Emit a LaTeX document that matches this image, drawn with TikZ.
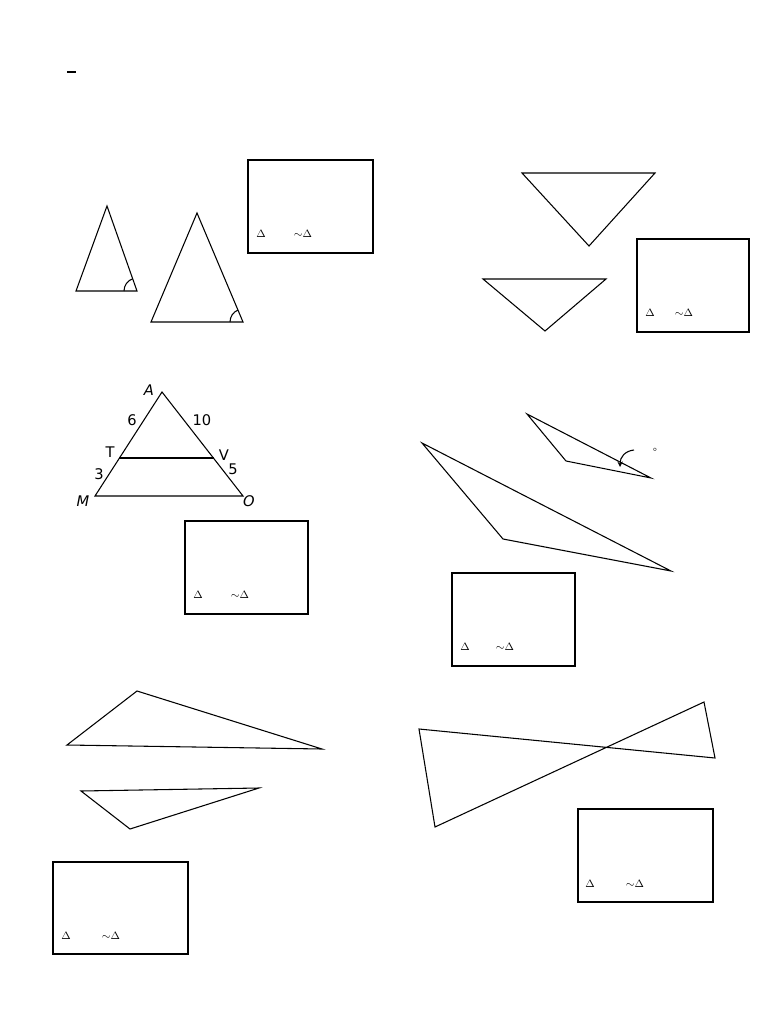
\documentclass[tikz,border=0pt]{standalone}
\usepackage{amsmath}
\usepackage{amssymb}
\usepackage{fontspec}
\newfontfamily\lblfont{DejaVu Sans}
\usetikzlibrary{arrows}

\begin{document}
\begin{tikzpicture}[x=0.75pt,y=-0.75pt,line width=0.8pt,
  lbl/.style={font=\lblfont\fontsize{11}{13}\selectfont,inner sep=0pt},
  sym/.style={font=\footnotesize,inner sep=0pt}]
\useasboundingbox (0,0) rectangle (768,1024);
\draw[line width=1.6pt] (67,72) -- (76,72);

\coordinate (P1) at (107,206); \coordinate (Q1) at (76,291); \coordinate (R1) at (137,291);
\draw (P1) -- (Q1) -- (R1) -- cycle;
\draw ([shift={(180:13)}]R1) arc[start angle=180,end angle=250.6,radius=13];
\coordinate (P2) at (197,213); \coordinate (Q2) at (151,322); \coordinate (R2) at (243,322);
\draw (P2) -- (Q2) -- (R2) -- cycle;
\draw ([shift={(180:13)}]R2) arc[start angle=180,end angle=247.1,radius=13];
\draw (248,160) rectangle (373,253);
\node[sym] (d1) at (261,234) {$\Delta$};
\node[sym] (s1) at (303,234) {${\sim}\Delta$};

\draw (522,173) -- (655,173) -- (589,246) -- cycle;
\draw (483,279) -- (606,279) -- (545,331) -- cycle;
\draw (637,239) rectangle (749,332);
\node[sym] (d2) at (650,313) {$\Delta$};
\node[sym] (s2) at (684,313) {${\sim}\Delta$};

\coordinate (A) at (162,392); \coordinate (M) at (95,496); \coordinate (O) at (243,496);
\coordinate (T) at (119,458); \coordinate (V) at (214,458);
\draw (A) -- (M) -- (O) -- cycle;
\draw (T) -- (V);
\node[lbl] at (149,390) {\itshape A};
\node[lbl] at (132,420) {6};
\node[lbl] at (202,420) {10};
\node[lbl] at (110,452) {T};
\node[lbl] at (224,455) {V};
\node[lbl] at (99,474) {3};
\node[lbl] at (233,469) {5};
\node[lbl] at (83,501) {\itshape M};
\node[lbl] at (249,501) {\itshape O};
\draw (185,521) rectangle (308,614);
\node[sym] (d3) at (198,595) {$\Delta$};
\node[sym] (s3) at (240,595) {${\sim}\Delta$};

\draw (527,414) -- (566,461) -- (651,478) -- cycle;
\draw[->,>=stealth] (634,450) .. controls (625,451) and (620,457) .. (620,467);
\node[sym] (deg) at (655,452) {\textdegree};
\draw (422,443) -- (503,539) -- (671,571) -- cycle;
\draw (452,573) rectangle (575,666);
\node[sym] (d4) at (465,647) {$\Delta$};
\node[sym] (s4) at (505,647) {${\sim}\Delta$};

\draw (67,745) -- (137,691) -- (322,749) -- cycle;
\draw (81,791) -- (259,788) -- (130,829) -- cycle;
\draw (53,862) rectangle (188,954);
\node[sym] (d5) at (66,936) {$\Delta$};
\node[sym] (s5) at (111,936) {${\sim}\Delta$};

\draw (419,729) -- (435,827) -- (704,702) -- (715,758) -- cycle;
\draw (578,809) rectangle (713,902);
\node[sym] (d6) at (590,884) {$\Delta$};
\node[sym] (s6) at (635,884) {${\sim}\Delta$};
\end{tikzpicture}
\end{document}
